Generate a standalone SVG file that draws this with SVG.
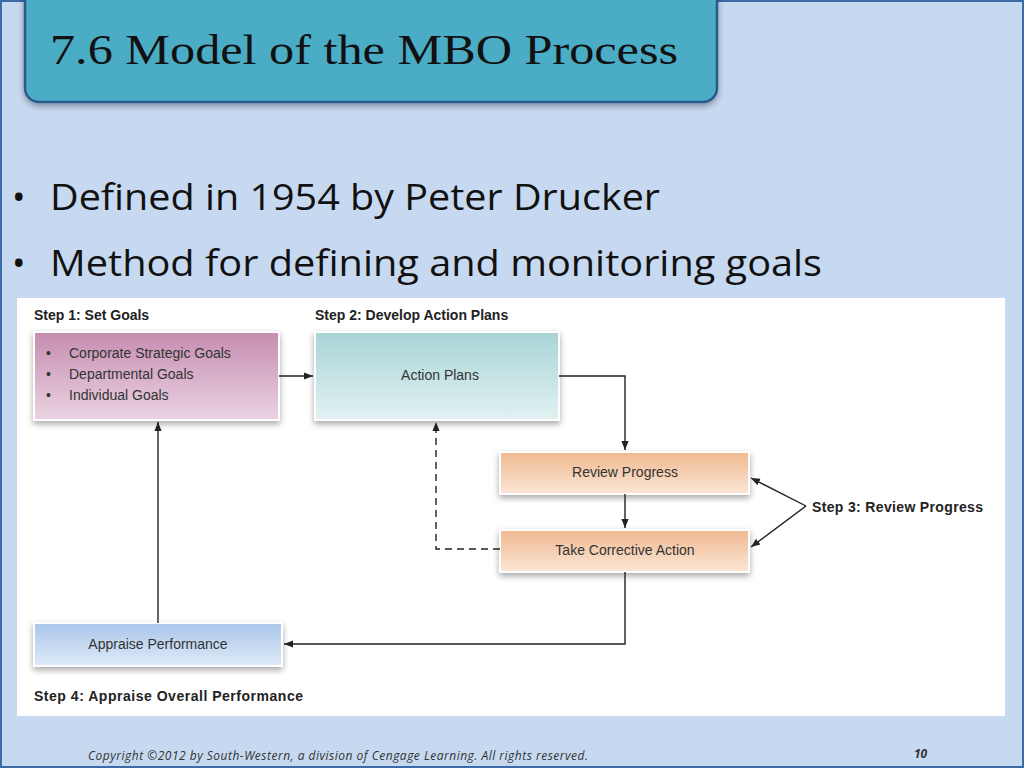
<svg xmlns="http://www.w3.org/2000/svg" width="1024" height="768" viewBox="0 0 1024 768">
<defs>
<style>
.lbl{font-family:"Liberation Sans",Arial,sans-serif;font-size:14px;font-weight:bold;fill:#222}
.nt{font-family:"Liberation Sans",Arial,sans-serif;font-size:14px;fill:#333}
.ln{stroke:#222;stroke-width:1.4;fill:none}
.box{stroke:#fff;stroke-width:2}
</style>
<linearGradient id="gp" x1="0" y1="0" x2="0" y2="1"><stop offset="0" stop-color="#c58db0"/><stop offset="1" stop-color="#ebd3e2"/></linearGradient>
<linearGradient id="gt" x1="0" y1="0" x2="0" y2="1"><stop offset="0" stop-color="#a8d4d6"/><stop offset="1" stop-color="#e2f1f2"/></linearGradient>
<linearGradient id="go" x1="0" y1="0" x2="0" y2="1"><stop offset="0" stop-color="#efb990"/><stop offset="1" stop-color="#fbe6d6"/></linearGradient>
<linearGradient id="gb" x1="0" y1="0" x2="0" y2="1"><stop offset="0" stop-color="#a9c6ea"/><stop offset="1" stop-color="#dfeaf8"/></linearGradient>
<filter id="sh" x="-10%" y="-20%" width="120%" height="150%"><feDropShadow dx="0" dy="3" stdDeviation="3" flood-color="#000" flood-opacity="0.35"/></filter>
<marker id="ar" viewBox="0 0 10 10" refX="10" refY="5" markerWidth="9" markerHeight="9" markerUnits="userSpaceOnUse" orient="auto"><path d="M0,1 L10,5 L0,9 z" fill="#222"/></marker>
</defs>
<rect width="1024" height="768" fill="#c7d9f0"/>
<rect x="1" y="1" width="1022" height="766" fill="none" stroke="#3d6aa8" stroke-width="2"/>
<g id="title">
<rect x="25" y="-20" width="692" height="122" rx="14" fill="#4bacc6" stroke="#2c5a8c" stroke-width="2.5" filter="url(#sh)"/>
<text x="50" y="64" font-family="Liberation Serif,serif" font-size="42" fill="#111" textLength="628" lengthAdjust="spacingAndGlyphs">7.6 Model of the MBO Process</text>
</g>
<g id="bullets" font-family="'Open Sans','Liberation Sans',sans-serif" font-size="36" fill="#111">
<text x="12" y="210">•</text><text x="50" y="210" textLength="610" lengthAdjust="spacingAndGlyphs">Defined in 1954 by Peter Drucker</text>
<text x="12" y="276">•</text><text x="50" y="276" textLength="772" lengthAdjust="spacingAndGlyphs">Method for defining and monitoring goals</text>
</g>
<rect x="17" y="298" width="988" height="418" fill="#fff"/>
<g id="labels">
<text class="lbl" x="34" y="320">Step 1: Set Goals</text>
<text class="lbl" x="315" y="320">Step 2: Develop Action Plans</text>
<text class="lbl" x="812" y="512" textLength="171">Step 3: Review Progress</text>
<text class="lbl" x="34" y="701" textLength="269">Step 4: Appraise Overall Performance</text>
</g>
<g id="n1"><rect class="box" x="34" y="332" width="245" height="88" fill="url(#gp)" filter="url(#sh)"/>
<g class="nt"><text x="46" y="358">•</text><text x="69" y="358">Corporate Strategic Goals</text><text x="46" y="379">•</text><text x="69" y="379">Departmental Goals</text><text x="46" y="400">•</text><text x="69" y="400">Individual Goals</text></g></g>
<g id="n2"><rect class="box" x="315" y="332" width="244" height="88" fill="url(#gt)" filter="url(#sh)"/><text class="nt" x="440" y="380" text-anchor="middle">Action Plans</text></g>
<g id="n3"><rect class="box" x="500" y="452" width="249" height="42" fill="url(#go)" filter="url(#sh)"/><text class="nt" x="625" y="477" text-anchor="middle">Review Progress</text></g>
<g id="n4"><rect class="box" x="500" y="530" width="249" height="42" fill="url(#go)" filter="url(#sh)"/><text class="nt" x="625" y="555" text-anchor="middle">Take Corrective Action</text></g>
<g id="n5"><rect class="box" x="34" y="623" width="248" height="43" fill="url(#gb)" filter="url(#sh)"/><text class="nt" x="158" y="649" text-anchor="middle">Appraise Performance</text></g>
<g id="connectors">
<path class="ln" d="M279,376 H313" marker-end="url(#ar)"/>
<path class="ln" d="M559,376 H625 V450" marker-end="url(#ar)"/>
<path class="ln" d="M625,494 V528" marker-end="url(#ar)"/>
<path class="ln" d="M500,549 H436 V422" stroke-dasharray="7,5" stroke="#555" marker-end="url(#ar)"/>
<path class="ln" d="M625,572 V644 H284" marker-end="url(#ar)"/>
<path class="ln" d="M158,623 V422" marker-end="url(#ar)"/>
<path class="ln" d="M806,506 L751,478" marker-end="url(#ar)"/>
<path class="ln" d="M806,506 L751,547" marker-end="url(#ar)"/>
</g>
<g id="footer" font-family="'Open Sans','Liberation Sans',sans-serif" font-size="12" font-style="italic" fill="#333">
<text x="88" y="760" textLength="500">Copyright ©2012 by South-Western, a division of Cengage Learning. All rights reserved.</text>
<text x="914" y="758" font-weight="bold">10</text>
</g>
</svg>
